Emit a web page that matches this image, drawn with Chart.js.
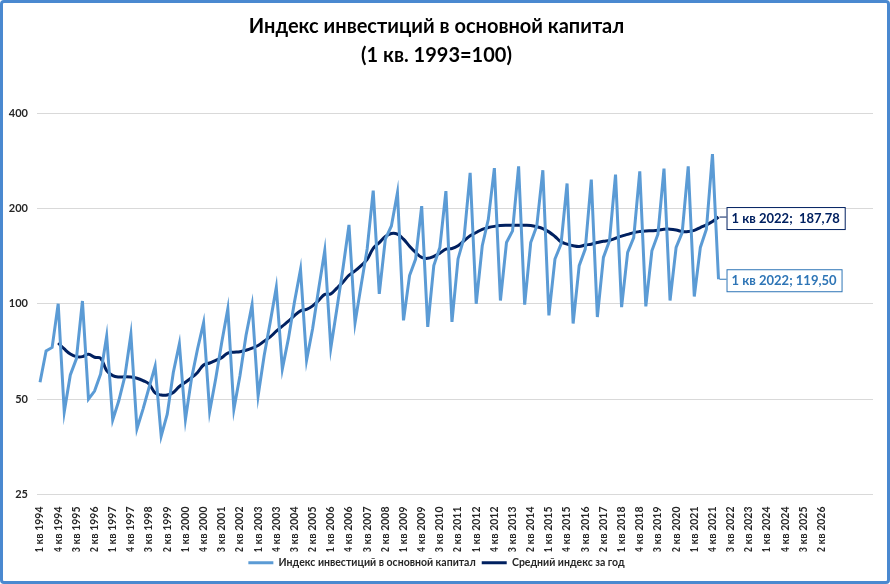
<!DOCTYPE html>
<html>
<head>
<meta charset="utf-8">
<script src="https://cdn.jsdelivr.net/npm/chart.js@4.4.1/dist/chart.umd.min.js"></script>
<style>
    html, body { margin: 0; padding: 0; background: #fff; }
    #wrap { position: relative; width: 890px; height: 584px; }
    #frame {
        position: absolute; left: 0; top: 0; width: 890px; height: 584px;
        box-sizing: border-box; border: 3px solid #4a89d0; border-radius: 4px;
        pointer-events: none;
    }
</style>
</head>
<body>
<div id="wrap">
    <canvas id="invest-graph" width="890" height="584"></canvas>
    <div id="frame"></div>
</div>
<script>
// tick labels: every quarter from 1 кв 1994 to 2 кв 2026, then empty slots
const quarterNames = ["1 кв", "2 кв", "3 кв", "4 кв"];
const years = [1994, 1995, 1996, 1997, 1998, 1999, 2000, 2001, 2002, 2003, 2004,
    2005, 2006, 2007, 2008, 2009, 2010, 2011, 2012, 2013, 2014, 2015, 2016, 2017,
    2018, 2019, 2020, 2021, 2022, 2023, 2024, 2025, 2026];
const lastQuarterShown = "2 кв 2026";
const emptySlots = 8;

const yTicks = [25, 50, 100, 200, 400];

// quarterly index, 1 кв 1994 .. 1 кв 2022
const investIndex = [
    56.5, 71, 72.8, 100,
    45.6, 59.6, 67, 102,
    50, 53, 60, 79,
    43, 49.4, 59, 80,
    40.3, 46.5, 54.4, 63.5,
    38.2, 44.8, 60.7, 74.7,
    43.1, 58, 72, 87.2,
    45.7, 58, 75.6, 96.4,
    46.5, 59.3, 79.4, 99.3,
    51.2, 68.6, 87.5, 112.6,
    62.3, 77.6, 101.2, 128.2,
    66.3, 83.5, 111.5, 147.1,
    72.5, 96.4, 128.9, 177.3,
    87.1, 114.2, 149, 227.4,
    107.5, 160, 176, 224,
    88.6, 122.7, 138.4, 203.4,
    84.5, 132, 150.6, 226.6,
    87.6, 138.5, 161.8, 259,
    100, 152.4, 184.7, 268,
    102.4, 156, 169.8, 271.5,
    99.3, 156, 176, 263.8,
    91.9, 138.4, 154.2, 239.6,
    86.6, 131.9, 148.8, 246.6,
    90.8, 140, 158, 255.7,
    97.6, 145.2, 161.8, 261.9,
    98.1, 147, 165.8, 267,
    102.4, 150.6, 167.8, 271.5,
    105.4, 150.6, 171.8, 296.8,
    119.5
];

// average over the last four quarters, starts at 4 кв 1994
const yearAverage = [
    null, null, null, 75.2,
    72, 69.4, 68.1, 68.1,
    69.3, 67.8, 67.3, 61.5,
    59.3, 58.7, 58.8, 58.7,
    58.2, 57.2, 55.8, 52.3,
    51.5, 51.5, 52.5, 54.8,
    56.5, 58.4, 60.7, 64.1,
    65, 66.3, 67.6, 69.9,
    70.3, 70.6, 71.3, 72.4,
    73.8, 76.2, 78.6, 81.9,
    85, 88.1, 91.8, 95,
    96, 98.5, 102.5, 107,
    107.5, 112, 117, 123,
    127, 132, 138, 149.5,
    156, 163, 166.6, 165.8,
    159.9, 152, 145.2, 140,
    139.1, 141.1, 144.5, 148.8,
    149.4, 152.4, 158, 163.8,
    167.8, 171.8, 174, 175.5,
    176.5, 176.9, 177, 177,
    176.8, 176.5, 175, 172.7,
    168.6, 163, 156.8, 154.2,
    152.4, 151.6, 153.2, 154.2,
    156, 157.5, 158.5, 161,
    163.5, 165.5, 167.7, 169,
    169.8, 170, 170.5, 171.8,
    172, 171, 169, 169,
    170.5, 174, 177.4, 181.7,
    187.78
];

const lastLabels = ["1 кв 2022; 119,50", "1 кв 2022;  187,78"];

let labels = [];
let done = false;
years.forEach((year) => {
    quarterNames.forEach((q) => {
        if (done) return;
        const name = q + " " + year;
        labels.push(name);
        if (name === lastQuarterShown) done = true;
    });
});
for (let i = 0; i < emptySlots; i++) labels.push("");

const FONT = "Lato, 'Liberation Sans', sans-serif";

// draws the boxed value next to the last point of each line
const lastValueLabels = {
    id: "lastValueLabels",
    afterDatasetsDraw(chart) {
        const ctx = chart.ctx;
        chart.data.datasets.forEach((ds, di) => {
            const meta = chart.getDatasetMeta(di);
            let idx = ds.data.length - 1;
            const pt = meta.data[idx];
            const text = lastLabels[di];
            ctx.save();
            ctx.font = "bold 13px " + FONT;
            const w = ctx.measureText(text).width + 10;
            const h = 22;
            const bx = pt.x + 8;
            const by = pt.y - h / 2 + 1;
            ctx.fillStyle = "#fff";
            ctx.fillRect(bx, by, w, h);
            ctx.strokeStyle = ds.labelColor;
            ctx.lineWidth = 1;
            ctx.strokeRect(bx + 0.5, by + 0.5, w, h);
            ctx.beginPath();
            ctx.moveTo(pt.x + 1, pt.y);
            ctx.lineTo(bx, pt.y);
            ctx.stroke();
            ctx.fillStyle = ds.labelColor;
            ctx.textBaseline = "middle";
            ctx.fillText(text, bx + 5, by + h / 2 + 1);
            ctx.restore();
        });
    },
};

const ctx = document.getElementById("invest-graph").getContext("2d");
new Chart(ctx, {
    type: "line",
    data: {
        labels: labels,
        datasets: [
            {
                label: "Индекс инвестиций в основной капитал",
                data: investIndex,
                borderColor: "#5b9bd5",
                backgroundColor: "#5b9bd5",
                labelColor: "#2e75b6",
                borderWidth: 3,
                pointRadius: 0,
                tension: 0,
            },
            {
                label: "Средний индекс за год",
                data: yearAverage,
                borderColor: "#002060",
                backgroundColor: "#002060",
                labelColor: "#002060",
                borderWidth: 3,
                pointRadius: 0,
                tension: 0.4,
            },
        ],
    },
    options: {
        responsive: false,
        animation: false,
        layout: {
            padding: { left: 0, right: 17, top: 0, bottom: 6 },
        },
        plugins: {
            title: {
                display: true,
                text: ["Индекс инвестиций в основной капитал", "(1 кв. 1993=100)"],
                color: "#000",
                font: { family: FONT, size: 20, weight: "bold", lineHeight: 1.45 },
                padding: { top: 12, bottom: 43 },
            },
            legend: {
                position: "bottom",
                labels: {
                    color: "#262626",
                    font: { family: FONT, size: 10.5, weight: "bold" },
                    boxWidth: 25,
                    boxHeight: 3,
                    padding: 6,
                    generateLabels: (chart) =>
                        chart.data.datasets.map((ds, i) => ({
                            text: ds.label,
                            fillStyle: ds.borderColor,
                            strokeStyle: ds.borderColor,
                            lineWidth: 0,
                            fontColor: "#262626",
                            datasetIndex: i,
                        })),
                },
            },
            tooltip: { enabled: false },
        },
        scales: {
            x: {
                type: "category",
                offset: true,
                grid: { display: false },
                border: { display: false },
                ticks: {
                    autoSkip: false,
                    maxRotation: 90,
                    minRotation: 90,
                    padding: 4,
                    color: "#262626",
                    font: { family: FONT, size: 10.5, weight: "bold" },
                    callback: function (value, index) {
                        return index % 3 === 0 ? labels[index] : "";
                    },
                },
                afterFit: (scale) => {
                    scale.height = 57;
                },
            },
            y: {
                type: "logarithmic",
                min: 25,
                max: 400,
                border: { display: false },
                grid: { color: "#d9d9d9", lineWidth: 1, drawTicks: false },
                ticks: {
                    padding: 9,
                    color: "#262626",
                    font: { family: FONT, size: 11, weight: "bold" },
                    callback: (value) => String(value),
                },
                afterBuildTicks: (scale) => {
                    scale.ticks = yTicks.map((v) => ({ value: v }));
                },
                afterFit: (scale) => {
                    scale.width = 37;
                },
            },
        },
    },
    plugins: [lastValueLabels],
});
</script>
</body>
</html>
